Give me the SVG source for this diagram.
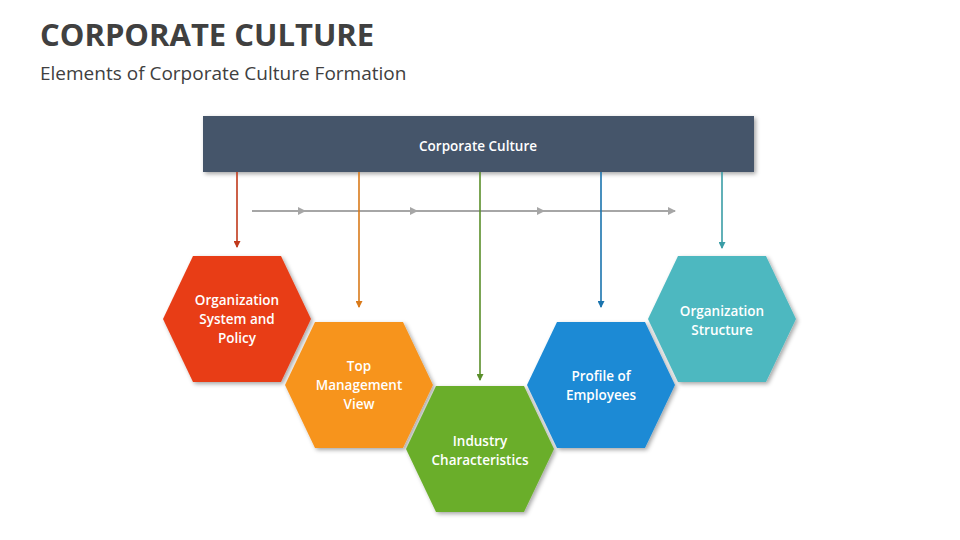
<svg xmlns="http://www.w3.org/2000/svg" width="960" height="540" viewBox="0 0 960 540">
<style>
.t{font-family:"Open Sans","Liberation Sans",sans-serif;fill:#fff;font-weight:600;font-size:13.5px;text-anchor:middle}
.v{stroke-width:1.6;fill:none}
.g{stroke:#a6a6a6;stroke-width:2;fill:none;marker-end:url(#ag)}
</style>
<defs>
<filter id="sh" x="-10%" y="-10%" width="130%" height="130%"><feDropShadow dx="2" dy="2" stdDeviation="2" flood-opacity="0.35"/></filter>
<marker id="ag" markerWidth="8" markerHeight="8" refX="7" refY="4" orient="auto" markerUnits="userSpaceOnUse"><path d="M0,0L8,4L0,8z" fill="#a6a6a6"/></marker>
<marker id="ar" markerWidth="7" markerHeight="7" refX="6" refY="3.5" orient="auto" markerUnits="userSpaceOnUse"><path d="M0,0L7,3.5L0,7z" fill="context-stroke"/></marker>
<path id="hex" d="M-74,0L-44,-63L44,-63L74,0L44,63L-44,63z"/>
</defs>
<rect width="960" height="540" fill="#fff"/>
<text x="40" y="46" font-family="'Open Sans','Liberation Sans',sans-serif" font-weight="700" font-size="31" fill="#404040">CORPORATE CULTURE</text>
<text x="40" y="80" font-family="'Open Sans','Liberation Sans',sans-serif" font-size="19" fill="#404040">Elements of Corporate Culture Formation</text>
<g id="top"><rect x="203" y="116" width="551" height="56" fill="#44546A" filter="url(#sh)"/>
<text x="478" y="151" class="t" font-size="19" font-weight="700">Corporate Culture</text></g>
<g id="connectors">
<path class="g" d="M252,211H305"/><path class="g" d="M305,211H417"/><path class="g" d="M417,211H544"/><path class="g" d="M544,211H675"/>
<path class="v" stroke="#C0391B" d="M237,172V247" marker-end="url(#ar)"/>
<path class="v" stroke="#D97A1A" d="M359,172V307" marker-end="url(#ar)"/>
<path class="v" stroke="#5A8F2A" d="M480,172V380" marker-end="url(#ar)"/>
<path class="v" stroke="#1B74AE" d="M601,172V307" marker-end="url(#ar)"/>
<path class="v" stroke="#3A9DA6" d="M722,172V248" marker-end="url(#ar)"/>
</g>
<g id="n1" transform="translate(237,319)"><use href="#hex" fill="#E83E16" filter="url(#sh)"/><text class="t" y="-14">Organization</text><text class="t" y="5">System and</text><text class="t" y="24">Policy</text></g>
<g id="n2" transform="translate(359,385)"><use href="#hex" fill="#F7941F" filter="url(#sh)"/><text class="t" y="-14">Top</text><text class="t" y="5">Management</text><text class="t" y="24">View</text></g>
<g id="n3" transform="translate(480,449)"><use href="#hex" fill="#6AAE2A" filter="url(#sh)"/><text class="t" y="-3">Industry</text><text class="t" y="16">Characteristics</text></g>
<g id="n4" transform="translate(601,385)"><use href="#hex" fill="#1A8AD5" filter="url(#sh)"/><text class="t" y="-4">Profile of</text><text class="t" y="15">Employees</text></g>
<g id="n5" transform="translate(722,319)"><use href="#hex" fill="#4DB8C0" filter="url(#sh)"/><text class="t" y="-3">Organization</text><text class="t" y="16">Structure</text></g>
</svg>
